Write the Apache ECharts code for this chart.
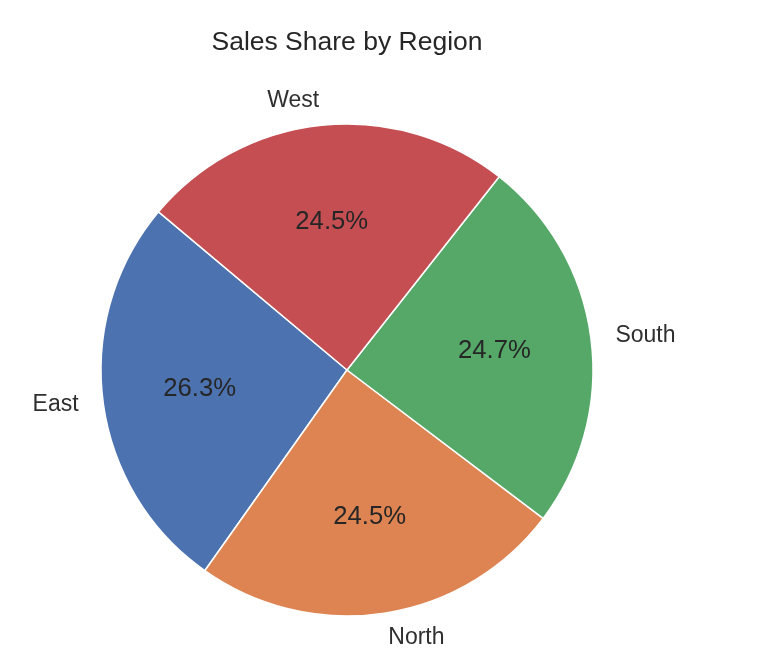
<!DOCTYPE html>
<html><head><meta charset="utf-8">
<script src="https://cdn.jsdelivr.net/npm/echarts@6/dist/echarts.min.js"></script>
<style>html,body{margin:0;padding:0;background:#fff}#c{width:766px;height:662px}</style>
</head><body><div id="c"></div>
<script>
const categories = ['East', 'North', 'South', 'West'];
const shares = [26.3, 24.5, 24.7, 24.5];
const colors = ['#4C72B0', '#DD8452', '#55A868', '#C44E52'];
const title = 'Sales Share by Region';

const R = 246, CX = 347, CY = 370, START = 140;
const font = 'Liberation Sans, Arial, sans-serif';
const data = categories.map((c, i) => ({ name: c, value: shares[i] }));

const chart = echarts.init(document.getElementById('c'));
chart.setOption({
  animation: false,
  title: { text: title, left: CX - 5, top: 24, textAlign: 'center',
    textStyle: { fontFamily: font, fontSize: 26.5, fontWeight: 'normal', color: '#262626' } },
  color: colors,
  series: [
    { type: 'pie', center: [CX, CY], radius: [0, R], startAngle: START, clockwise: false,
      avoidLabelOverlap: false, minAngle: 0,
      itemStyle: { borderColor: '#fff', borderWidth: 1.5 },
      label: { show: true, position: 'outside', formatter: '{b}', distanceToLabelLine: 0,
        fontFamily: font, fontSize: 23, color: '#2f2f2f' },
      labelLine: { show: false, length: R * 0.1, length2: 0 },
      emphasis: { disabled: true },
      data: data },
    { type: 'pie', center: [CX, CY], radius: [0, R * 1.2 - 4], startAngle: START, clockwise: false,
      silent: true, avoidLabelOverlap: false, z: 3,
      itemStyle: { color: 'rgba(0,0,0,0)', borderWidth: 0 },
      label: { show: true, position: 'inside', formatter: p => p.value.toFixed(1) + '%',
        fontFamily: font, fontSize: 25.7, color: '#262626' },
      labelLine: { show: false },
      emphasis: { disabled: true },
      data: data }
  ]
});
</script></body></html>
